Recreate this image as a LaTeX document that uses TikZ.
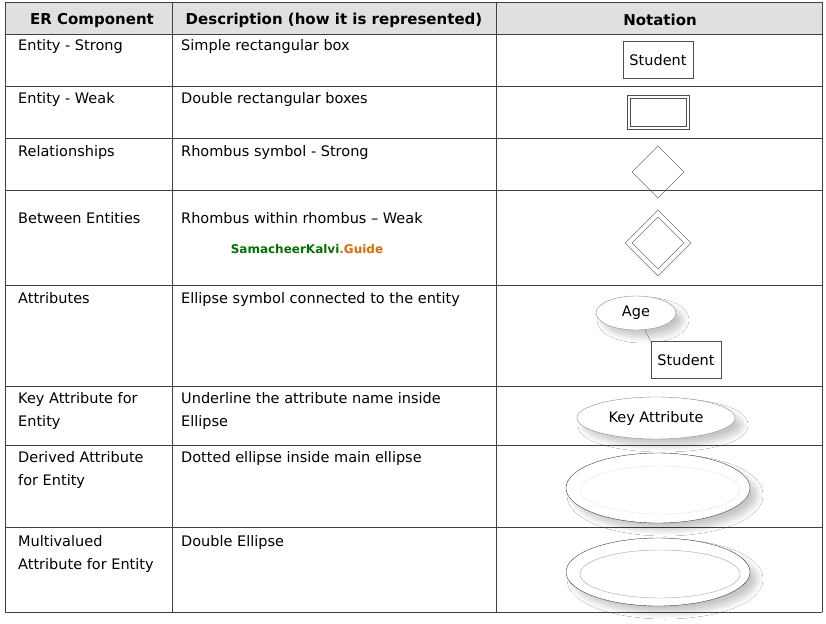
\documentclass[tikz,border=0pt]{standalone}
\usepackage{fontspec}
\setmainfont{DejaVu Sans}
\usetikzlibrary{shapes.geometric,shadows.blur}
\begin{document}
\begin{tikzpicture}[x=1pt,y=-1pt,
  grid/.style={draw=black!75,line width=0.8pt},
  txt/.style={anchor=north west,inner sep=0pt,font=\fontsize{14.5}{23}\selectfont,align=left},
  hdr/.style={font=\bfseries\fontsize{15}{18}\selectfont,inner sep=0pt},
  ent/.style={draw=black!70,minimum width=70pt,minimum height=37pt,font=\fontsize{14.5}{17}\selectfont,fill=white},
  ell/.style={ellipse,draw=black!45,fill=white,blur shadow={shadow xshift=7pt,shadow yshift=-7pt,shadow opacity=22,shadow blur steps=10,shadow blur radius=6pt},font=\fontsize{14.5}{17}\selectfont,inner sep=0pt},
  dia/.style={diamond,draw=black!70,aspect=1,inner sep=0pt}]
\useasboundingbox (0,0) rectangle (826,623);
\fill[white] (0,0) rectangle (826,623);
\fill[black!12] (5,2) rectangle (822,34);
\foreach \y in {2,34,86,138,190,285,386,445,527,612} \draw[grid] (5,\y) -- (822,\y);
\foreach \x in {5,172,496,822} \draw[grid] (\x,2) -- (\x,612);
\node[hdr] (h1) at (92,20) {ER Component};
\node[hdr] (h2) at (334,20) {Description (how it is represented)};
\node[hdr] (h3) at (660,20) {Notation};
\node[txt] (a1) at (18,39) {Entity - Strong};
\node[txt] (a2) at (18,92) {Entity - Weak};
\node[txt] (a3) at (18,145) {Relationships};
\node[txt] (a4) at (18,212) {Between Entities};
\node[txt] (a5) at (18,292) {Attributes};
\node[txt] (a6) at (18,392) {Key Attribute for\\Entity};
\node[txt] (a7) at (18,451) {Derived Attribute\\for Entity};
\node[txt] (a8) at (18,535) {Multivalued\\Attribute for Entity};
\node[txt] (b1) at (181,39) {Simple rectangular box};
\node[txt] (b2) at (181,92) {Double rectangular boxes};
\node[txt] (b3) at (181,145) {Rhombus symbol - Strong};
\node[txt] (b4) at (181,212) {Rhombus within rhombus – Weak};
\node[txt] (b5) at (181,292) {Ellipse symbol connected to the entity};
\node[txt] (b6) at (181,392) {Underline the attribute name inside\\Ellipse};
\node[txt] (b7) at (181,451) {Dotted ellipse inside main ellipse};
\node[txt] (b8) at (181,535) {Double Ellipse};
\node[font=\bfseries\fontsize{12}{14}\selectfont,inner sep=0pt] (wm) at (307,249)
  {\textcolor{green!45!black}{SamacheerKalvi}\textcolor{orange!85!black}{.Guide}};
% notation
\node[ent] (s1) at (658,60) {Student};
\node[draw=black!70,minimum width=62pt,minimum height=34pt] (w1) at (658,112) {};
\node[draw=black!70,minimum width=56pt,minimum height=28pt] (w2) at (658,112) {};
\node[dia,minimum width=52pt,minimum height=52pt] (r1) at (658,172) {};
\node[dia,minimum width=66pt,minimum height=66pt] (r2) at (658,243) {};
\node[dia,minimum width=52pt,minimum height=52pt] (r3) at (658,243) {};
\node[ell,minimum width=80pt,minimum height=34pt] (age) at (636,313) {Age};
\node[ent] (s2) at (686,360) {Student};
\draw[black!55] (age) -- (s2.north west);
\node[ell,minimum width=158pt,minimum height=42pt] (key) at (656,418) {Key Attribute};
\node[ell,draw=black!75,minimum width=184pt,minimum height=70pt] (d1) at (658,488) {};
\node[ellipse,draw=black!30,densely dotted,minimum width=160pt,minimum height=48pt] (d2) at (660,490) {};
\node[ell,draw=black!75,minimum width=184pt,minimum height=68pt] (m1) at (658,572) {};
\node[ellipse,draw=black!35,minimum width=160pt,minimum height=48pt] (m2) at (660,574) {};
\end{tikzpicture}
\end{document}
